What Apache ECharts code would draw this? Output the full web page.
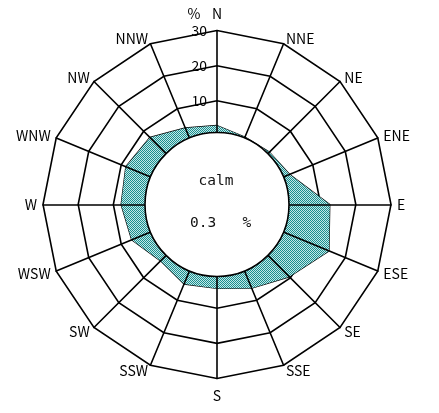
<!DOCTYPE html>
<html>
<head>
<meta charset="utf-8">
<script src="https://cdn.jsdelivr.net/npm/echarts@6/dist/echarts.min.js"></script>
<style>
  html, body { margin: 0; padding: 0; background: #fff; }
  #chart { width: 439px; height: 413px; }
</style>
</head>
<body>
<div id="chart"></div>
<script>
// Wind direction frequency (%) by 16 compass points, clockwise from north
const directions = ['N', 'NNE', 'NE', 'ENE', 'E', 'ESE', 'SE', 'SSE',
                    'S', 'SSW', 'SW', 'WSW', 'W', 'WNW', 'NW', 'NNW'];
const frequency = [3.0, 1.3, 1.6, 2.9, 12.6, 15.0, 9.6, 6.3,
                   4.4, 5.0, 3.2, 6.8, 7.8, 8.6, 7.5, 4.1];
const ringTicks = [0, 10, 20, 30];
const calmPercent = 0.3;
const unitText = '%';

const CENTER = [217, 204.5];
const RADIUS = [68.5, 174];
const CALM_R = 72;
const LABEL_FONT = "'Noto Sans CJK JP', 'Liberation Sans', sans-serif";
const MONO_FONT = "'DejaVu Sans Mono', 'Liberation Mono', monospace";

// ECharts lays radar indicators out counter-clockwise; walk the compass backwards
const order = [0];
for (let i = directions.length - 1; i > 0; i--) order.push(i);

const tickMin = ringTicks[0];
const tickMax = ringTicks[ringTicks.length - 1];
const splitNumber = ringTicks.length - 1;

// 1px checkerboard fill for the frequency polygon
function ditherPattern() {
  const c = document.createElement('canvas');
  c.width = 2; c.height = 2;
  const ctx = c.getContext('2d');
  ctx.fillStyle = '#c4e8e8';
  ctx.fillRect(0, 0, 2, 2);
  ctx.fillStyle = '#1a8e8e';
  ctx.fillRect(0, 0, 1, 1);
  ctx.fillRect(1, 1, 1, 1);
  return c;
}

const ringIndicators = order.map((i, k) => {
  const ind = { name: directions[i], min: tickMin, max: tickMax };
  if (k === 0) ind.axisLabel = { show: true };
  return ind;
});
const spokeIndicators = order.map(i => ({ name: directions[i], min: tickMin, max: tickMax }));

const chart = echarts.init(document.getElementById('chart'), null, { renderer: 'canvas' });

chart.setOption({
  backgroundColor: '#ffffff',
  animation: false,
  radar: [
    {
      // rings and scale labels, drawn beneath the filled area
      z: 1,
      center: CENTER,
      radius: RADIUS,
      startAngle: 90,
      shape: 'polygon',
      splitNumber: splitNumber,
      indicator: ringIndicators,
      axisName: { show: false },
      axisLine: { show: false },
      axisTick: { show: false },
      axisLabel: {
        show: false,
        color: '#000',
        fontSize: 14,
        fontFamily: LABEL_FONT,
        margin: 10
      },
      splitArea: { show: false },
      splitLine: { show: true, lineStyle: { color: '#000', width: 1.6 } }
    },
    {
      // direction spokes and names, drawn above the filled area
      z: 5,
      center: CENTER,
      radius: RADIUS,
      startAngle: 90,
      shape: 'polygon',
      splitNumber: splitNumber,
      indicator: spokeIndicators,
      axisNameGap: 6,
      axisName: {
        show: true,
        color: '#000',
        fontSize: 14,
        fontFamily: LABEL_FONT,
        padding: [4, 0, 4, 0]
      },
      axisLine: { show: true, lineStyle: { color: '#000', width: 1.6 } },
      axisTick: { show: false },
      axisLabel: { show: false },
      splitArea: { show: false },
      splitLine: { show: false }
    }
  ],
  series: [
    {
      type: 'radar',
      radarIndex: 0,
      z: 3,
      symbol: 'none',
      silent: true,
      lineStyle: { color: '#000', width: 1.2 },
      areaStyle: { color: { image: ditherPattern(), repeat: 'repeat' }, opacity: 1 },
      data: [{ value: order.map(i => frequency[i]) }]
    }
  ],
  graphic: [
    {
      type: 'circle',
      z: 10,
      shape: { cx: CENTER[0], cy: CENTER[1], r: CALM_R },
      style: { fill: '#fff', stroke: '#000', lineWidth: 1.6 }
    },
    {
      type: 'text',
      z: 11,
      x: 216, y: 181,
      style: {
        text: 'calm', fill: '#111', font: '14.5px ' + MONO_FONT,
        textAlign: 'center', textVerticalAlign: 'middle'
      }
    },
    {
      type: 'text',
      z: 11,
      x: 190, y: 223.5,
      style: {
        text: calmPercent.toFixed(1) + '   ' + unitText, fill: '#111', font: '14.5px ' + MONO_FONT,
        textAlign: 'left', textVerticalAlign: 'middle'
      }
    },
    {
      type: 'text',
      z: 11,
      x: 194, y: 14,
      style: {
        text: unitText, fill: '#000', font: '14px ' + LABEL_FONT,
        textAlign: 'center', textVerticalAlign: 'middle'
      }
    }
  ]
});
</script>
</body>
</html>
